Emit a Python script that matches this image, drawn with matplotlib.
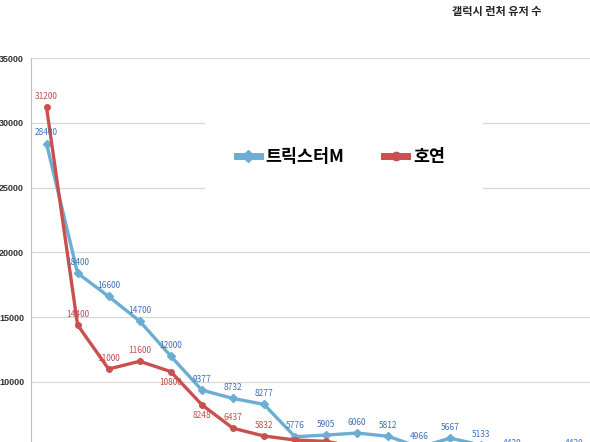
import numpy as np
import matplotlib.pyplot as plt
from matplotlib.patches import Rectangle
from matplotlib.lines import Line2D

plt.rcParams['font.family'] = ['Noto Sans CJK KR', 'DejaVu Sans']

title = '갤럭시 런처 유저 수'
names = ['트릭스터M', '호연']
trickster = [28400, 18400, 16600, 14700, 12000, 9377, 8732, 8277, 5776, 5905,
             6060, 5812, 4966, 5667, 5133, 4420, 4100, 4420]
hoyeon = [31200, 14400, 11000, 11600, 10800, 8248, 6437, 5832, 5525, 5420,
          5000, 4800]
hoyeon_labeled = 8
hoyeon_below = [4, 5]
yticks = [10000, 15000, 20000, 25000, 30000, 35000]

blue_line = '#6aaed3'
blue_text = '#3f72b5'
red_line = '#c9504f'
red_text = '#c0504d'

fig = plt.figure(figsize=(5.9, 4.42), dpi=100)
ax = fig.add_axes([31 / 590, 0, 559 / 590, (442 - 58) / 442])

x_b = np.arange(len(trickster))
x_r = np.arange(len(hoyeon))
ax.plot(x_b, trickster, color=blue_line, lw=2.4, marker='D', ms=4, zorder=3)
ax.plot(x_r, hoyeon, color=red_line, lw=2.4, marker='o', ms=4, zorder=3)

for x, v in zip(x_b, trickster):
    ax.annotate(str(v), (x, v), xytext=(0, 4.5), textcoords='offset points',
                ha='center', va='bottom', fontsize=6, color=blue_text, zorder=4,
                annotation_clip=False)
for x, v in zip(x_r[:hoyeon_labeled], hoyeon[:hoyeon_labeled]):
    below = x in hoyeon_below
    ax.annotate(str(v), (x, v), xytext=(0, -4.5 if below else 4.5),
                textcoords='offset points', ha='center',
                va='top' if below else 'bottom', fontsize=6, color=red_text,
                zorder=4, annotation_clip=False)

ax.set_xlim(-0.5, 17.5)
ax.set_ylim(5370, 35000)
ax.set_yticks(yticks)
ax.set_yticklabels([str(t) for t in yticks], fontsize=6.5, color='#333333',
                   fontweight='bold', family='Liberation Sans')
ax.tick_params(axis='y', length=0, pad=5)
ax.set_xticks([])
ax.grid(axis='y', color='#d9d9d9', lw=0.9, zorder=0)
for s in ['top', 'right', 'bottom']:
    ax.spines[s].set_visible(False)
ax.spines['left'].set_color('#bfbfbf')

# white box behind legend
box = Rectangle((205 / 590, 1 - 192 / 442), 278 / 590, 70 / 442,
                transform=fig.transFigure, facecolor='white', edgecolor='none',
                zorder=2)
fig.patches.append(box)

handles = [Line2D([], [], color=blue_line, lw=5, marker='D', ms=6),
           Line2D([], [], color=red_line, lw=5, marker='o', ms=6)]
fig.legend(handles, names, loc='center', bbox_to_anchor=(341 / 590, 1 - 157 / 442),
           ncol=2, frameon=False, handlelength=1.3, handletextpad=0.35,
           columnspacing=2.3, prop={'size': 12.5, 'weight': 'bold'})

fig.text(497 / 590, 1 - 11 / 442, title, ha='center', va='center',
         fontsize=8, fontweight='bold', color='#222222')

fig.savefig('out.png', dpi=100)
